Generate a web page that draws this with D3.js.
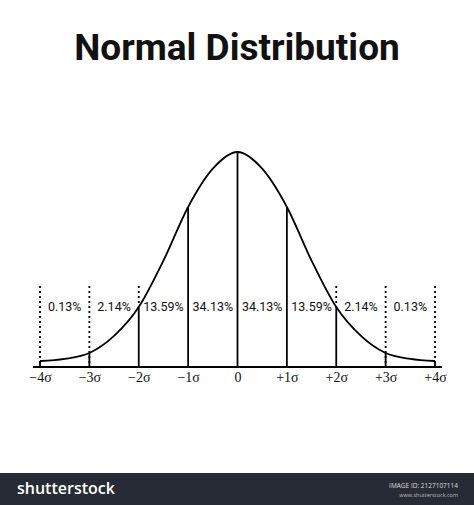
<!DOCTYPE html>
<html><head><meta charset="utf-8">
<script src="https://cdn.jsdelivr.net/npm/d3@7"></script>
<style>body{margin:0;background:#fff}svg{display:block}</style>
</head><body>
<svg id="c" width="474" height="505"></svg>
<script>
const sigmaTicks = [-4,-3,-2,-1,0,1,2,3,4];
const tickLabels = ["\u22124\u03c3","\u22123\u03c3","\u22122\u03c3","\u22121\u03c3","0","+1\u03c3","+2\u03c3","+3\u03c3","+4\u03c3"];
const percentLabels = ["0.13%","2.14%","13.59%","34.13%","34.13%","13.59%","2.14%","0.13%"];
const curveX = [-4,-3.5,-3,-2.5,-2,-1.5,-1,-0.5,0,0.5,1,1.5,2,2.5,3,3.5,4];
const curveY = [0,0.01,0.038,0.12,0.258,0.48,0.737,0.92,1,0.92,0.737,0.48,0.258,0.12,0.038,0.01,0];

const svg = d3.select("#c");
const x = d3.scaleLinear().domain([-4,4]).range([40,435]);
const y = d3.scaleLinear().domain([0,1]).range([361,152]);
const base = 367, dashTop = 286;

svg.append("text").attr("x",237).attr("y",60).attr("text-anchor","middle")
  .attr("font-family","Roboto").attr("font-weight","bold").attr("font-size",37)
  .attr("fill","#111").text("Normal Distribution");

const pts = curveX.map((v,i)=>[v,curveY[i]]);
svg.append("path").attr("d",d3.line().x(d=>x(d[0])).y(d=>y(d[1])).curve(d3.curveMonotoneX)(pts))
  .attr("fill","none").attr("stroke","#000").attr("stroke-width",1.8);

const fy = v => curveY[curveX.indexOf(v)];
sigmaTicks.forEach(s=>{
  const a = Math.abs(s);
  if (a>=2) {
    const end = a===2 ? y(fy(s)) : base;
    svg.append("line").attr("x1",x(s)).attr("x2",x(s)).attr("y1",dashTop).attr("y2",end)
      .attr("stroke","#000").attr("stroke-width",1.8).attr("stroke-dasharray","2,3");
  }
  svg.append("line").attr("x1",x(s)).attr("x2",x(s)).attr("y1",y(fy(s))).attr("y2",base)
    .attr("stroke","#000").attr("stroke-width",1.8);
});

const axis = svg.append("g").attr("transform",`translate(0,${base})`)
  .call(d3.axisBottom(x).tickValues(sigmaTicks).tickFormat((d,i)=>tickLabels[i]).tickSize(0).tickPadding(5));
axis.select(".domain").attr("stroke","#000").attr("stroke-width",1.8).attr("d","M33,0H442");
axis.selectAll("text").attr("font-family","Liberation Serif").attr("font-size",14).attr("fill","#111");

percentLabels.forEach((p,i)=>{
  svg.append("text").attr("x",x(sigmaTicks[i]+0.5)).attr("y",311).attr("text-anchor","middle")
    .attr("font-family","Roboto").attr("font-size",12.5).attr("fill","#111").text(p);
});

svg.append("rect").attr("x",0).attr("y",473).attr("width",474).attr("height",32).attr("fill","#262b35");
svg.append("text").attr("x",17).attr("y",494).attr("font-family","Open Sans").attr("font-weight","600")
  .attr("font-size",16).attr("fill","#fff").text("shutterstock");
svg.append("text").attr("x",458).attr("y",488).attr("text-anchor","end").attr("font-family","Open Sans")
  .attr("font-size",6.5).attr("fill","#ddd").text("IMAGE ID: 2127107114");
svg.append("text").attr("x",458).attr("y",497).attr("text-anchor","end").attr("font-family","Open Sans")
  .attr("font-size",5.5).attr("fill","#bbb").text("www.shutterstock.com");
</script>
</body></html>
